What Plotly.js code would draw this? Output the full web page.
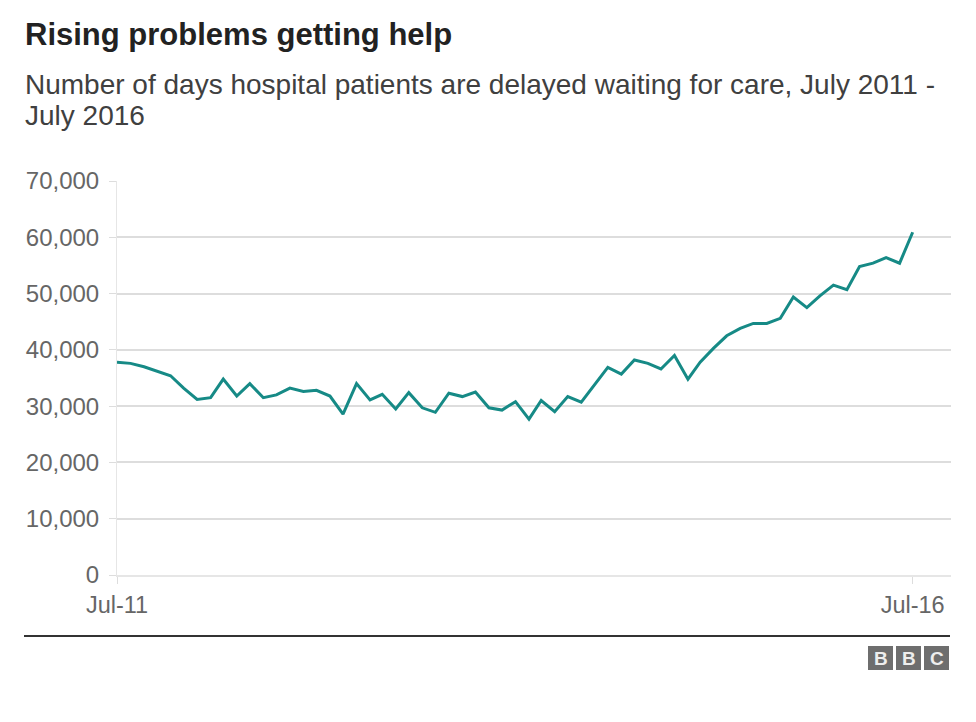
<!DOCTYPE html>
<html>
<head>
<meta charset="utf-8">
<script src="https://cdn.plot.ly/plotly-3.0.1.min.js"></script>
<style>
  html, body { margin: 0; padding: 0; background: #fff; }
  #chart { width: 976px; height: 722px; }
</style>
</head>
<body>
<div id="chart"></div>
<script>
// ---- data ----
var months = [
  "2011-07-01","2011-08-01","2011-09-01","2011-10-01","2011-11-01","2011-12-01",
  "2012-01-01","2012-02-01","2012-03-01","2012-04-01","2012-05-01","2012-06-01",
  "2012-07-01","2012-08-01","2012-09-01","2012-10-01","2012-11-01","2012-12-01",
  "2013-01-01","2013-02-01","2013-03-01","2013-04-01","2013-05-01","2013-06-01",
  "2013-07-01","2013-08-01","2013-09-01","2013-10-01","2013-11-01","2013-12-01",
  "2014-01-01","2014-02-01","2014-03-01","2014-04-01","2014-05-01","2014-06-01",
  "2014-07-01","2014-08-01","2014-09-01","2014-10-01","2014-11-01","2014-12-01",
  "2015-01-01","2015-02-01","2015-03-01","2015-04-01","2015-05-01","2015-06-01",
  "2015-07-01","2015-08-01","2015-09-01","2015-10-01","2015-11-01","2015-12-01",
  "2016-01-01","2016-02-01","2016-03-01","2016-04-01","2016-05-01","2016-06-01",
  "2016-07-01"
];
var delayedDays = [
  37800, 37600, 37000, 36200, 35400, 33200,
  31200, 31500, 34800, 31800, 34000, 31500,
  32000, 33200, 32600, 32800, 31800, 28600,
  34000, 31100, 32100, 29500, 32400, 29700,
  28900, 32300, 31700, 32500, 29700, 29300,
  30800, 27700, 31000, 29000, 31700, 30700,
  33800, 36900, 35700, 38200, 37600, 36600,
  39000, 34800, 37800, 40300, 42500, 43800,
  44700, 44700, 45600, 49400, 47500, 49600,
  51500, 50700, 54800, 55400, 56400, 55400,
  60900
];
var xTickVals = ["2011-07-01", "2016-07-01"];
var xTickText = ["Jul-11", "Jul-16"];
var yTickVals = [0, 10000, 20000, 30000, 40000, 50000, 60000, 70000];

var titleText = "Rising problems getting help";
var subtitleLines = [
  "Number of days hospital patients are delayed waiting for care, July 2011 -",
  "July 2016"
];
var logoLetters = ["B", "B", "C"];

// ---- geometry helpers (pixel -> paper) ----
var L = 117, R = 951, T = 181, B = 575, W = 976, H = 722;
function px(x) { return (x - L) / (R - L); }
function py(y) { return (B - y) / (B - T); }

var FONT = "Liberation Sans, Arial, Helvetica, sans-serif";

var trace = {
  x: months,
  y: delayedDays,
  type: "scatter",
  mode: "lines",
  line: { color: "#168a86", width: 3 },
  hoverinfo: "x+y"
};

var annotations = [
  {
    xref: "paper", yref: "paper", x: px(23), y: py(34),
    xanchor: "left", yanchor: "middle", showarrow: false,
    text: "<b>" + titleText + "</b>",
    font: { family: FONT, size: 31, color: "#222222" }
  },
  {
    xref: "paper", yref: "paper", x: px(23), y: py(84.5),
    xanchor: "left", yanchor: "middle", showarrow: false,
    text: subtitleLines[0],
    font: { family: FONT, size: 28, color: "#404040" }
  },
  {
    xref: "paper", yref: "paper", x: px(23), y: py(115),
    xanchor: "left", yanchor: "middle", showarrow: false,
    text: subtitleLines[1],
    font: { family: FONT, size: 28, color: "#404040" }
  }
];

var shapes = [
  {
    type: "line", xref: "paper", yref: "paper",
    x0: px(24), x1: px(950), y0: py(636), y1: py(636),
    line: { color: "#333333", width: 2 }
  }
];

var boxLefts = [868, 896, 924];
for (var i = 0; i < logoLetters.length; i++) {
  shapes.push({
    type: "rect", xref: "paper", yref: "paper",
    x0: px(boxLefts[i]), x1: px(boxLefts[i] + 25),
    y0: py(670), y1: py(646),
    fillcolor: "#6e6e6e", line: { width: 0 }
  });
  annotations.push({
    xref: "paper", yref: "paper",
    x: px(boxLefts[i] + 12.5), y: py(658),
    xanchor: "center", yanchor: "middle", showarrow: false,
    text: "<b>" + logoLetters[i] + "</b>",
    font: { family: FONT, size: 19, color: "#eeeeee" }
  });
}

var layout = {
  width: W, height: H,
  margin: { l: L, r: W - R, t: T, b: H - B, pad: 0 },
  paper_bgcolor: "#ffffff",
  plot_bgcolor: "#ffffff",
  showlegend: false,
  font: { family: FONT, color: "#666666" },
  xaxis: {
    type: "date",
    range: ["2011-07-01", "2016-09-27"],
    tickvals: xTickVals,
    ticktext: xTickText,
    showgrid: false,
    zeroline: false,
    showline: true,
    linecolor: "#e6e6e6",
    linewidth: 2,
    ticks: "outside",
    ticklen: 7,
    tickwidth: 1,
    tickcolor: "#dddddd",
    ticklabelstandoff: 1,
    tickfont: { family: FONT, size: 23.5, color: "#666666" },
    fixedrange: true
  },
  yaxis: {
    range: [0, 70000],
    tickvals: yTickVals,
    tickformat: ",d",
    showgrid: true,
    gridcolor: "#dddddd",
    gridwidth: 2,
    zeroline: false,
    showline: true,
    linecolor: "#e6e6e6",
    linewidth: 1,
    ticks: "outside",
    ticklen: 7,
    tickwidth: 1,
    tickcolor: "#dddddd",
    ticklabelstandoff: 5,
    tickfont: { family: FONT, size: 24, color: "#666666" },
    fixedrange: true
  },
  annotations: annotations,
  shapes: shapes
};

Plotly.newPlot("chart", [trace], layout, { displayModeBar: false, staticPlot: true });
</script>
</body>
</html>
